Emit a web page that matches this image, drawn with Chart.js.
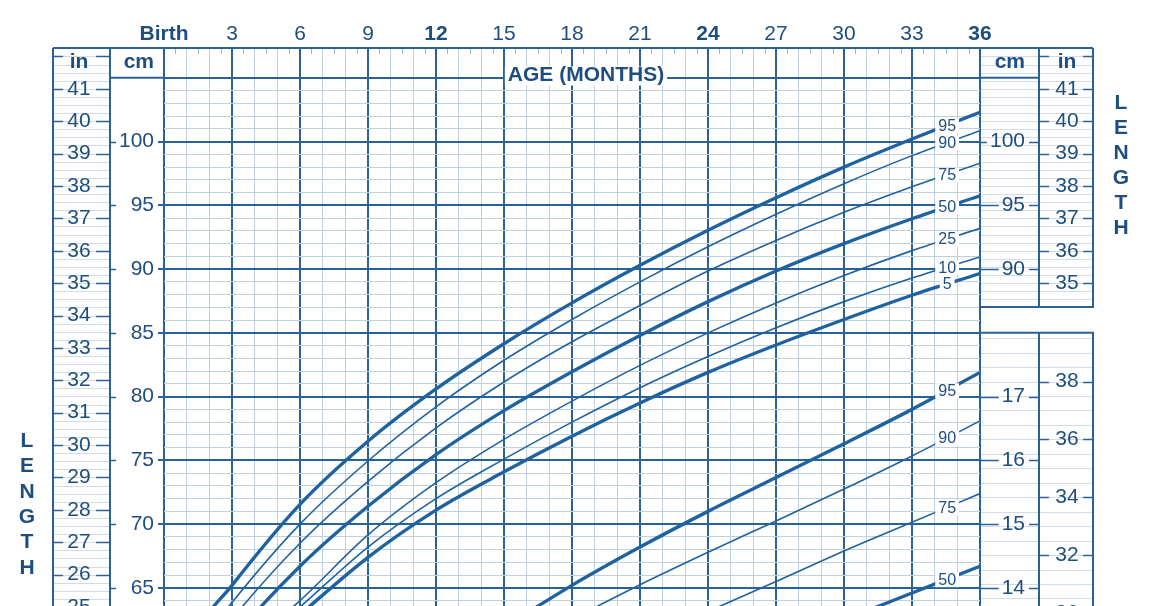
<!DOCTYPE html>
<html><head><meta charset="utf-8">
<style>html,body{margin:0;padding:0;background:#fff;overflow:hidden}canvas{display:block}</style>
<script src="https://cdn.jsdelivr.net/npm/chart.js"></script>
</head><body>
<canvas id="c" width="1153" height="606"></canvas>
<script>
// ---------- data ----------
const months = [0, 1.5, 3, 6, 9, 12, 15, 18, 21, 24, 27, 30, 33, 36];
const xTickLabels = ['Birth', '3', '6', '9', '12', '15', '18', '21', '24', '27', '30', '33', '36'];
const boldXTicks = [0, 12, 24, 36];

// length-for-age percentiles (cm)
const len95 = [54.0, 61.6, 65.2, 71.55, 76.5, 80.6, 84.15, 87.35, 90.3, 93.05, 95.6, 98.0, 100.2, 102.3];
const len90 = [53.0, 60.3, 63.85, 70.0, 74.95, 79.2, 82.85, 86.05, 89.0, 91.75, 94.3, 96.7, 98.9, 100.85];
const len75 = [51.5, 59.0, 62.55, 68.5, 73.35, 77.55, 81.15, 84.3, 87.15, 89.85, 92.25, 94.45, 96.45, 98.3];
const len50 = [50.0, 57.5, 60.95, 66.7, 71.4, 75.45, 78.9, 81.95, 84.8, 87.45, 89.85, 92.0, 93.95, 95.75];
const len25 = [48.5, 56.3, 59.4, 64.0, 69.15, 73.25, 76.65, 79.65, 82.45, 85.0, 87.35, 89.5, 91.45, 93.2];
const len10 = [47.8, 55.8, 58.9, 63.5, 68.2, 72.0, 75.1, 78.0, 80.7, 83.15, 85.4, 87.45, 89.3, 90.95];
const len5  = [47.2, 55.3, 58.3, 62.9, 67.4, 71.1, 74.1, 76.9, 79.5, 81.9, 84.05, 86.05, 87.95, 89.65];

// weight-for-age percentiles (kg)
const wt95 = [4.3, 6.3, 8.0, 10.3, 11.8, 12.7, 13.38, 14.04, 14.64, 15.2, 15.73, 16.26, 16.8, 17.38];
const wt90 = [4.0, 6.0, 7.6, 9.8, 11.2, 12.15, 12.87, 13.5, 14.05, 14.56, 15.05, 15.55, 16.07, 16.62];
const wt75 = [3.8, 5.5, 7.0, 9.1, 10.5, 11.4, 12.1, 12.65, 13.16, 13.63, 14.1, 14.58, 15.03, 15.48];
const wt50 = [3.5, 5.0, 6.4, 8.3, 9.6, 10.6, 11.3, 11.85, 12.3, 12.7, 13.1, 13.5, 13.92, 14.34];

const lengthNames = ['95', '90', '75', '50', '25', '10', '5'];
const lengthValues = [len95, len90, len75, len50, len25, len10, len5];
const weightNames = ['95', '90', '75', '50'];
const weightValues = [wt95, wt90, wt75, wt50];
const boldCurves = ['95', '50', '5'];

// axis tick labels
const cmTickLabels = [65, 70, 75, 80, 85, 90, 95, 100];
const cmRightTickLabels = [90, 95, 100];
const inTickLabels = [25, 26, 27, 28, 29, 30, 31, 32, 33, 34, 35, 36, 37, 38, 39, 40, 41];
const inRightTickLabels = [35, 36, 37, 38, 39, 40, 41];
const kgTickLabels = [14, 15, 16, 17];
const lbTickLabels = [30, 32, 34, 36, 38];

// ---------- geometry / style ----------
const FONT = "'Liberation Sans', Arial, Helvetica, sans-serif";
const TEXT = '#1d4e7f';
const CURVE = '#1f62a0';
const MAJOR = '#2a6298';
const MINOR = '#bfd0e2';
const FAINT = '#d2dce8';
const CLEAR = 'rgba(0,0,0,0)';
const CM_TOP = 107.34, CM_BOTTOM = 63.58, CM_SPLIT = 87.03, CM_HEADER = 106.2;
const CM_PER_IN = 2.54, KG_PER_LB = 0.45359237;
const cmToKg = cm => 17 + (cm - 80) / 5;
const IN_HEADER = CM_HEADER / CM_PER_IN;
const LABEL_MONTH = 34.55;
const monthGrid = Array.from({length: 37}, (_, i) => i);
const cmGrid = Array.from({length: 42}, (_, i) => 64 + i);
const F = (size, bold) => ({family: FONT, size: size, weight: bold ? 'bold' : 'normal'});

function valueAt(vals, m) {
  for (let i = 0; i < months.length - 1; i++) {
    if (m >= months[i] && m <= months[i + 1]) {
      const t = (m - months[i]) / (months[i + 1] - months[i]);
      return vals[i] + t * (vals[i + 1] - vals[i]);
    }
  }
  return vals[vals.length - 1];
}
const setW = w => s => { s.width = w; s.paddingTop = 0; s.paddingBottom = 0; };

function line(ctx, x1, y1, x2, y2, color, w) {
  ctx.save(); ctx.strokeStyle = color; ctx.lineWidth = w;
  ctx.beginPath(); ctx.moveTo(x1, y1); ctx.lineTo(x2, y2); ctx.stroke(); ctx.restore();
}

const deco = {
  id: 'deco',
  beforeDraw(chart) {
    const {ctx, chartArea: ca, scales: s} = chart;
    const lowerTop = s.y.getPixelForValue(85);
    ctx.save(); ctx.strokeStyle = FAINT; ctx.lineWidth = 1; ctx.beginPath();
    for (let v = 25; v <= 42.5; v += 0.25) {
      const py = Math.round(s.yin.getPixelForValue(v)) + 0.5;
      if (py > ca.top + 3 && py < ca.bottom) { ctx.moveTo(s.yin.left, py); ctx.lineTo(s.yin.right, py); }
      const pr = Math.round(s.yinR.getPixelForValue(v)) + 0.5;
      if (pr > ca.top + 3 && pr < s.yinR.bottom - 3) { ctx.moveTo(ca.right, pr); ctx.lineTo(s.yinR.right, pr); }
    }
    for (let v = 29; v <= 41; v += 0.5) {
      const py = Math.round(s.ylb.getPixelForValue(v)) + 0.5;
      if (py > lowerTop + 3 && py < ca.bottom) { ctx.moveTo(ca.right, py); ctx.lineTo(s.ylb.right, py); }
    }
    ctx.stroke(); ctx.restore();
  },
  afterDatasetsDraw(chart) {
    const {ctx, chartArea: ca, scales: s} = chart;
    const upperBottom = s.ycmR.bottom;
    const lowerTop = s.y.getPixelForValue(85);
    const divX = 1039;
    const rightX = s.yinR.right;

    // percentile labels on the curves
    ctx.save();
    ctx.font = '16px ' + FONT; ctx.textAlign = 'center'; ctx.textBaseline = 'middle';
    const lx = s.x.getPixelForValue(LABEL_MONTH);
    const put = (txt, py) => {
      const w = ctx.measureText(txt).width;
      ctx.fillStyle = '#fff'; ctx.fillRect(lx - w / 2 - 3, py - 7, w + 6, 15);
      ctx.fillStyle = TEXT; ctx.fillText(txt, lx, py + 1);
    };
    lengthNames.forEach((n, i) => put(n, s.y.getPixelForValue(valueAt(lengthValues[i], LABEL_MONTH))));
    weightNames.forEach((n, i) => put(n, s.ykg.getPixelForValue(valueAt(weightValues[i], LABEL_MONTH))));
    ctx.restore();

    // AGE (MONTHS)
    ctx.save();
    ctx.font = 'bold 21px ' + FONT; ctx.textAlign = 'center'; ctx.textBaseline = 'middle';
    const ax = 586, ay = 75.5, aw = ctx.measureText('AGE (MONTHS)').width;
    ctx.fillStyle = '#fff'; ctx.fillRect(ax - aw / 2 - 3, ay - 9, aw + 6, 19);
    ctx.fillStyle = TEXT; ctx.fillText('AGE (MONTHS)', ax, ay);
    ctx.restore();

    // half-month ticks along the top edge
    for (let m = 0.5; m < 36; m += 1) {
      const px = Math.round(s.x.getPixelForValue(m)) + 0.5;
      line(ctx, px, ca.top, px, ca.top + 6, '#9fb5cc', 1);
    }

    // frames
    const headerY = s.y.getPixelForValue(105);
    line(ctx, s.yin.left, ca.top, rightX, ca.top, MAJOR, 2);
    line(ctx, s.yin.left, ca.top, s.yin.left, ca.bottom, MAJOR, 2);
    line(ctx, s.yin.right, ca.top, s.yin.right, ca.bottom, MAJOR, 2);
    line(ctx, s.yin.right, headerY, ca.left, headerY, MAJOR, 2);
    line(ctx, ca.right, headerY, divX, headerY, MAJOR, 2);
    line(ctx, divX, ca.top, divX, upperBottom, MAJOR, 2);
    line(ctx, rightX, ca.top, rightX, upperBottom, MAJOR, 2);
    line(ctx, ca.right - 1, upperBottom, rightX + 1, upperBottom, MAJOR, 2);
    line(ctx, ca.right - 1, lowerTop, rightX + 1, lowerTop, MAJOR, 2);
    line(ctx, divX, lowerTop, divX, ca.bottom, MAJOR, 2);
    line(ctx, rightX, lowerTop, rightX, ca.bottom, MAJOR, 2);

    // inch / lb ticks (both sides)
    const sideTicks = (scale, vals, x1, x2, x3, x4) => vals.forEach(v => {
      const py = Math.round(scale.getPixelForValue(v)) + 0.5;
      line(ctx, x1, py, x2, py, MAJOR, 1.5); line(ctx, x3, py, x4, py, MAJOR, 1.5);
    });
    sideTicks(s.yin, inTickLabels.concat([42]), s.yin.left, s.yin.left + 10, s.yin.right - 14, s.yin.right);
    sideTicks(s.yinR, inRightTickLabels.concat([42]), divX, divX + 10, rightX - 10, rightX);
    sideTicks(s.ylb, lbTickLabels, divX, divX + 10, rightX - 10, rightX);
    // small left ticks in the left cm column
    cmTickLabels.forEach(v => {
      const py = Math.round(s.y.getPixelForValue(v)) + 0.5;
      line(ctx, s.yin.right, py, s.yin.right + 6, py, MAJOR, 1.5);
    });
    // right cm / kg: line from chart to label, plus tick at divider
    ctx.save(); ctx.font = '21px ' + FONT;
    const rightTicks = (scale, vals) => vals.forEach(v => {
      const py = Math.round(scale.getPixelForValue(v)) + 0.5;
      const w = ctx.measureText(String(v)).width;
      line(ctx, ca.right, py, scale.right - w - 3, py, MAJOR, 1.5);
      line(ctx, scale.right + 4, py, divX, py, MAJOR, 1.5);
    });
    rightTicks(s.ycmR, cmRightTickLabels);
    rightTicks(s.ykg, kgTickLabels);
    ctx.restore();

    // LENGTH vertical titles
    ctx.save();
    ctx.font = 'bold 21px ' + FONT; ctx.fillStyle = TEXT; ctx.textAlign = 'center'; ctx.textBaseline = 'middle';
    'LENGTH'.split('').forEach((c, i) => {
      ctx.fillText(c, 27, 441 + i * 25.4);
      ctx.fillText(c, 1121, 103 + i * 25.1);
    });
    ctx.restore();
  }
};

const datasets = [];
lengthNames.forEach((n, i) => datasets.push({
  label: 'Length P' + n, xAxisID: 'x', yAxisID: 'y',
  data: months.map((m, j) => ({x: m, y: lengthValues[i][j]})),
  borderColor: CURVE, borderWidth: boldCurves.includes(n) ? 3.4 : 1.6,
  pointRadius: 0, cubicInterpolationMode: 'monotone', fill: false
}));
weightNames.forEach((n, i) => datasets.push({
  label: 'Weight P' + n, xAxisID: 'x', yAxisID: 'ykg',
  data: months.map((m, j) => ({x: m, y: weightValues[i][j]})),
  borderColor: CURVE, borderWidth: boldCurves.includes(n) ? 3.4 : 1.6,
  pointRadius: 0, cubicInterpolationMode: 'monotone', fill: false
}));

const sideAxis = (extra) => Object.assign({
  type: 'linear', border: {display: false},
  grid: {drawOnChartArea: false, drawTicks: false},
}, extra);

new Chart(document.getElementById('c'), {
  type: 'line',
  data: {datasets},
  plugins: [deco],
  options: {
    responsive: false, animation: false, devicePixelRatio: 1,
    layout: {padding: {left: 53, right: 60, top: 0, bottom: 0}},
    plugins: {legend: {display: false}, tooltip: {enabled: false}},
    scales: {
      x: {
        type: 'linear', position: 'top', min: 0, max: 36,
        afterBuildTicks: s => { s.ticks = monthGrid.map(v => ({value: v})); },
        afterFit: s => { s.height = 48; s.paddingLeft = 0; s.paddingRight = 0; },
        border: {display: false},
        grid: {
          drawTicks: false,
          color: c => c.tick.value % 3 === 0 ? MAJOR : MINOR,
          lineWidth: c => c.tick.value % 3 === 0 ? 2 : 1
        },
        ticks: {
          autoSkip: false, maxRotation: 0, padding: 1, color: TEXT,
          callback: v => v % 3 === 0 ? xTickLabels[v / 3] : '',
          font: c => F(21, c.tick && boldXTicks.includes(c.tick.value))
        }
      },
      y: {
        type: 'linear', position: 'left', weight: 1, min: CM_BOTTOM, max: CM_TOP,
        afterBuildTicks: s => { s.ticks = cmGrid.concat([CM_HEADER]).map(v => ({value: v})); },
        afterFit: setW(54),
        border: {display: false},
        grid: {
          drawTicks: true, tickLength: 6, tickWidth: 2,
          color: c => c.tick.value === CM_HEADER ? CLEAR : (c.tick.value % 5 === 0 ? MAJOR : MINOR),
          lineWidth: c => c.tick.value % 5 === 0 ? 2 : 1,
          tickColor: c => cmTickLabels.includes(c.tick.value) ? MAJOR : CLEAR
        },
        ticks: {
          autoSkip: false, crossAlign: 'near', padding: 4, color: TEXT,
          callback: v => v === CM_HEADER ? 'cm' : (cmTickLabels.includes(v) ? String(v) : ''),
          font: c => F(21, c.tick && c.tick.value === CM_HEADER)
        }
      },
      yin: sideAxis({
        position: 'left', weight: 2, min: CM_BOTTOM / CM_PER_IN, max: CM_TOP / CM_PER_IN,
        afterBuildTicks: s => { s.ticks = inTickLabels.concat([IN_HEADER]).map(v => ({value: v})); },
        afterFit: setW(57),
        ticks: {
          autoSkip: false, crossAlign: 'center', padding: 19.3, color: TEXT,
          callback: v => v === IN_HEADER ? 'in' : String(v),
          font: c => F(21, c.tick && c.tick.value === IN_HEADER)
        }
      }),
      ycmR: sideAxis({
        position: 'right', weight: 1, stack: 'rightInner', stackWeight: CM_TOP - CM_SPLIT,
        min: CM_SPLIT, max: CM_TOP,
        afterBuildTicks: s => { s.ticks = cmRightTickLabels.concat([CM_HEADER]).map(v => ({value: v})); },
        afterFit: setW(45),
        ticks: {
          autoSkip: false, crossAlign: 'far', padding: 0, color: TEXT,
          callback: v => v === CM_HEADER ? 'cm' : String(v),
          font: c => F(21, c.tick && c.tick.value === CM_HEADER)
        }
      }),
      ykg: sideAxis({
        position: 'right', weight: 1, stack: 'rightInner', stackWeight: CM_SPLIT - CM_BOTTOM,
        min: cmToKg(CM_BOTTOM), max: cmToKg(CM_SPLIT),
        afterBuildTicks: s => { s.ticks = kgTickLabels.map(v => ({value: v})); },
        afterFit: setW(45),
        ticks: {autoSkip: false, crossAlign: 'far', padding: 0, color: TEXT, font: F(21, false), callback: v => String(v)}
      }),
      yinR: sideAxis({
        position: 'right', weight: 2, stack: 'rightOuter', stackWeight: CM_TOP - CM_SPLIT,
        min: CM_SPLIT / CM_PER_IN, max: CM_TOP / CM_PER_IN,
        afterBuildTicks: s => { s.ticks = inRightTickLabels.concat([IN_HEADER]).map(v => ({value: v})); },
        afterFit: setW(68),
        ticks: {
          autoSkip: false, crossAlign: 'center', padding: 30.3, color: TEXT,
          callback: v => v === IN_HEADER ? 'in' : String(v),
          font: c => F(21, c.tick && c.tick.value === IN_HEADER)
        }
      }),
      ylb: sideAxis({
        position: 'right', weight: 2, stack: 'rightOuter', stackWeight: CM_SPLIT - CM_BOTTOM,
        min: cmToKg(CM_BOTTOM) / KG_PER_LB, max: cmToKg(CM_SPLIT) / KG_PER_LB,
        afterBuildTicks: s => { s.ticks = lbTickLabels.map(v => ({value: v})); },
        afterFit: setW(68),
        ticks: {autoSkip: false, crossAlign: 'center', padding: 30.3, color: TEXT, font: F(21, false), callback: v => String(v)}
      })
    }
  }
});
</script>
</body></html>
